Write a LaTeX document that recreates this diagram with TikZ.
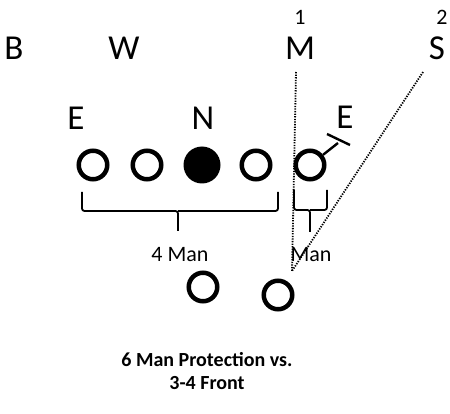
\documentclass[tikz,border=0pt]{standalone}
\usepackage{fontspec}
\setmainfont{Carlito}
\begin{document}
\begin{tikzpicture}[x=1pt,y=-1pt,
  big/.style={inner sep=0pt,font=\fontsize{35}{40}\selectfont},
  num/.style={inner sep=0pt,font=\fontsize{22}{26}\selectfont},
  lbl/.style={inner sep=0pt,font=\fontsize{22}{26}\selectfont},
  ttl/.style={inner sep=0pt,font=\bfseries\fontsize{20}{24}\selectfont},
  player/.style={circle,draw,line width=4.5pt,minimum size=28.5pt,inner sep=0pt},
  center/.style={circle,fill,minimum size=37pt,inner sep=0pt},
  brace/.style={line width=1.8pt,rounded corners=2.5pt},
  rush/.style={line width=1.8pt,dash pattern=on 1.3pt off 1.3pt},
  block/.style={line width=2.4pt}]
\useasboundingbox (0,0) rectangle (450,414);
% defense
\node[big] (B) at (14,48) {B};
\node[big] (W) at (124,48) {W};
\node[big] (M) at (300,48) {M};
\node[big] (S) at (437,48) {S};
\node[num] (n1) at (300,17) {1};
\node[num] (n2) at (442,17) {2};
\node[big] (EL) at (76,118) {E};
\node[big] (N) at (203,118) {N};
\node[big] (ER) at (345,117) {E};
% offensive line
\node[player] (c1) at (93,165) {};
\node[player] (c2) at (147,165) {};
\node[center] (c3) at (202,165) {};
\node[player] (c4) at (256,165) {};
\node[player] (c5) at (310,165) {};
% backs
\node[player] (b1) at (203,287) {};
\node[player] (b2) at (278,295) {};
% braces
\draw[brace] (82,192) -- (82,211) -- (178,211) -- (178,231);
\draw[brace] (278,192) -- (278,211) -- (178,211);
\draw[brace] (294,190) -- (294,210) -- (310,210) -- (310,232);
\draw[brace] (327,190) -- (327,210) -- (310,210);
\node[lbl] (four) at (180,255) {4 Man};
\node[lbl] (man) at (311,255) {Man};
% rush lanes
\coordinate (meet) at (292,271);
\coordinate (mtop) at (296,72);
\coordinate (stop) at (423,72);
\draw[rush] (mtop) -- (meet);
\draw[rush] (stop) -- (meet);
% block
\coordinate (blk) at (338,143);
\coordinate (bar1) at (327,134);
\coordinate (bar2) at (350,145);
\draw[block] (c5.38) -- (blk);
\draw[block] (bar1) -- (bar2);
% title
\node[ttl] (t1) at (207,360) {6 Man Protection vs.};
\node[ttl] (t2) at (207,383) {3-4 Front};
\end{tikzpicture}
\end{document}
